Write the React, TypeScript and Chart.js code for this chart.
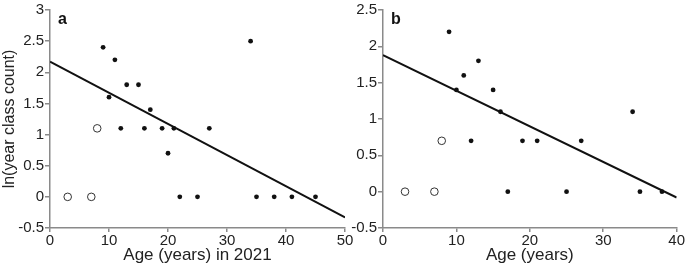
import React, { useEffect, useRef } from "react";
import { Chart, registerables } from "chart.js";
Chart.register(...registerables);

// Panel a data (age in 2021, ln(year class count))
const aFilledX = [9, 11, 10, 13, 15, 17, 12, 16, 19, 21, 27, 20, 22, 25, 35, 38, 41, 45, 34];
const aFilledY = [2.4, 2.2, 1.6, 1.8, 1.8, 1.4, 1.1, 1.1, 1.1, 1.1, 1.1, 0.7, 0, 0, 0, 0, 0, 0, 2.5];
const aOpenX = [3, 7, 8];
const aOpenY = [0, 0, 1.1];
const aIntercept = 2.17;
const aSlope = -0.05;

// Panel b data
const bFilledX = [9, 11, 13, 10, 15, 16, 34, 12, 19, 21, 27, 17, 25, 35, 38];
const bFilledY = [2.2, 1.6, 1.8, 1.4, 1.4, 1.1, 1.1, 0.7, 0.7, 0.7, 0.7, 0, 0, 0, 0];
const bOpenX = [3, 7, 8];
const bOpenY = [0, 0, 0.7];
const bIntercept = 1.88;
const bSlope = -0.049;

const FONT = "'Liberation Sans', Arial, Helvetica, sans-serif";
const AXIS = "#8a8a8a";
const TEXT = "#222";

function zip(xs: number[], ys: number[]) {
  return xs.map((x, i) => ({ x, y: ys[i] }));
}

type PanelCfg = {
  letter: string;
  filled: { x: number; y: number }[];
  open: { x: number; y: number }[];
  intercept: number;
  slope: number;
  xMax: number;
  yMin: number;
  yMax: number;
  xTitle: string;
  yTitle: string | null;
  yWidth: number;
  padRight: number;
};

function Panel({ cfg, left, width }: { cfg: PanelCfg; left: number; width: number }) {
  const ref = useRef<HTMLCanvasElement>(null);
  useEffect(() => {
    if (!ref.current) return;
    const letterPlugin = {
      id: "letter",
      afterDraw(chart: any) {
        const ctx = chart.ctx;
        ctx.save();
        ctx.font = `bold 16px ${FONT}`;
        ctx.fillStyle = "#111";
        ctx.textAlign = "left";
        ctx.textBaseline = "middle";
        ctx.fillText(cfg.letter, chart.chartArea.left + 8, chart.chartArea.top + 10);
        ctx.restore();
      },
    };
    const chart = new Chart(ref.current, {
      type: "scatter",
      data: {
        datasets: [
          {
            data: [
              { x: 0, y: cfg.intercept },
              { x: cfg.xMax, y: cfg.intercept + cfg.slope * cfg.xMax },
            ],
            showLine: true,
            borderColor: "#111",
            borderWidth: 2,
            pointRadius: 0,
          },
          {
            data: cfg.filled,
            pointRadius: 2.4,
            backgroundColor: "#111",
            borderColor: "#111",
            borderWidth: 0,
          },
          {
            data: cfg.open,
            pointRadius: 3.8,
            backgroundColor: "#fff",
            borderColor: "#333",
            borderWidth: 1,
          },
        ],
      },
      options: {
        animation: false,
        responsive: false,
        layout: { padding: { top: 7, right: cfg.padRight, left: 0, bottom: 0 } },
        plugins: { legend: { display: false }, tooltip: { enabled: false } },
        scales: {
          x: {
            type: "linear",
            min: 0,
            max: cfg.xMax,
            afterFit(scale: any) {
              scale.height = 38;
            },
            ticks: {
              stepSize: 10,
              color: TEXT,
              font: { family: FONT, size: 15 },
              padding: 0,
              maxRotation: 0,
              callback: (v: any) => String(Number(v)),
            },
            grid: { drawOnChartArea: false, color: AXIS, tickLength: 4, lineWidth: 1.5 },
            border: { color: AXIS, width: 1.5 },
            title: {
              display: true,
              text: cfg.xTitle,
              color: TEXT,
              font: { family: FONT, size: 17 },
              padding: { top: 0, bottom: 0 },
            },
          },
          y: {
            type: "linear",
            min: cfg.yMin,
            max: cfg.yMax,
            afterFit(scale: any) {
              scale.width = cfg.yWidth;
            },
            ticks: {
              stepSize: 0.5,
              color: TEXT,
              font: { family: FONT, size: 15 },
              padding: 1,
              callback: (v: any) => String(Math.round(Number(v) * 10) / 10),
            },
            grid: { drawOnChartArea: false, color: AXIS, tickLength: 5, lineWidth: 1.5 },
            border: { color: AXIS, width: 1.5 },
            title: {
              display: !!cfg.yTitle,
              text: cfg.yTitle || "",
              color: TEXT,
              font: { family: FONT, size: 16 },
              padding: { top: 0, bottom: 0 },
            },
          },
        },
      },
      plugins: [letterPlugin],
    } as any);
    return () => chart.destroy();
  }, []);
  return (
    <div style={{ position: "absolute", left, top: 0, width, height: 266 }}>
      <canvas ref={ref} width={width} height={266} style={{ width, height: 266 }} />
    </div>
  );
}

export default function App() {
  const a: PanelCfg = {
    letter: "a",
    filled: zip(aFilledX, aFilledY),
    open: zip(aOpenX, aOpenY),
    intercept: aIntercept,
    slope: aSlope,
    xMax: 50,
    yMin: -0.5,
    yMax: 3,
    xTitle: "Age (years) in 2021",
    yTitle: "ln(year class count)",
    yWidth: 50,
    padRight: 15,
  };
  const b: PanelCfg = {
    letter: "b",
    filled: zip(bFilledX, bFilledY),
    open: zip(bOpenX, bOpenY),
    intercept: bIntercept,
    slope: bSlope,
    xMax: 40,
    yMin: -0.5,
    yMax: 2.5,
    xTitle: "Age (years)",
    yTitle: null,
    yWidth: 38,
    padRight: 7,
  };
  return (
    <div style={{ position: "fixed", left: 0, top: 0, width: 685, height: 266, background: "#fff" }}>
      <Panel cfg={a} left={0} width={360} />
      <Panel cfg={b} left={345} width={340} />
    </div>
  );
}
